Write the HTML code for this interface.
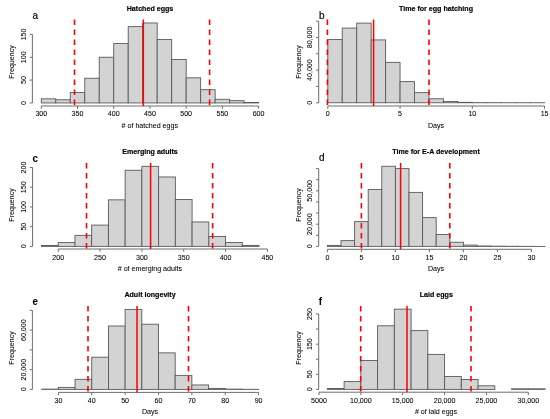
<!DOCTYPE html>
<html><head><meta charset="utf-8"><style>
html,body{margin:0;padding:0;background:#fff;width:550px;height:419px;overflow:hidden}
svg{display:block;will-change:transform;filter:blur(0.25px)}
text{font-family:"Liberation Sans",sans-serif;font-size:7.1px;stroke:#000;stroke-width:0.06px;stroke-linejoin:round} .t{stroke-width:0.16px}
</style></head><body>
<svg width="550" height="419" viewBox="0 0 550 419">
<rect width="550" height="419" fill="#fff"/>
<g fill="#d3d3d3" stroke="#5a5a5a" stroke-width="0.9"><rect x="41.3" y="98.84" width="14.49" height="4.11"/><rect x="55.79" y="99.75" width="14.49" height="3.2"/><rect x="70.27" y="92.44" width="14.49" height="10.51"/><rect x="84.76" y="78.27" width="14.49" height="24.68"/><rect x="99.25" y="57.25" width="14.49" height="45.7"/><rect x="113.73" y="43.54" width="14.49" height="59.41"/><rect x="128.22" y="26.63" width="14.49" height="76.32"/><rect x="142.71" y="22.97" width="14.49" height="79.98"/><rect x="157.19" y="39.43" width="14.49" height="63.52"/><rect x="171.68" y="59.53" width="14.49" height="43.42"/><rect x="186.17" y="77.81" width="14.49" height="25.14"/><rect x="200.65" y="89.7" width="14.49" height="13.25"/><rect x="215.14" y="99.29" width="14.49" height="3.66"/><rect x="229.63" y="100.67" width="14.49" height="2.28"/><rect x="244.11" y="102.49" width="14.49" height="0.46"/></g><g fill="none" stroke="#666" stroke-width="0.95"><path d="M41.3 106H258.6M41.3 106v2.8M77.52 106v2.8M113.73 106v2.8M149.95 106v2.8M186.17 106v2.8M222.38 106v2.8M258.6 106v2.8"/><path d="M32.4 102.95V34.4M32.4 102.95h-2.7M32.4 80.1h-2.7M32.4 57.25h-2.7M32.4 34.4h-2.7"/></g><g stroke="#ff0000"><line x1="74.5" y1="19.5" x2="74.5" y2="106" stroke-width="1.6" stroke-dasharray="5.5 4.5"/><line x1="143.35" y1="106" x2="143.35" y2="19.5" stroke-width="1.5"/><line x1="209.6" y1="19.5" x2="209.6" y2="106" stroke-width="1.6" stroke-dasharray="5.5 4.5"/></g><g fill="#000"><text x="41.3" y="116.2" text-anchor="middle">300</text><text x="77.52" y="116.2" text-anchor="middle">350</text><text x="113.73" y="116.2" text-anchor="middle">400</text><text x="149.95" y="116.2" text-anchor="middle">450</text><text x="186.17" y="116.2" text-anchor="middle">500</text><text x="222.38" y="116.2" text-anchor="middle">550</text><text x="258.6" y="116.2" text-anchor="middle">600</text><text transform="translate(26 102.95) rotate(-90)" text-anchor="middle">0</text><text transform="translate(26 80.1) rotate(-90)" text-anchor="middle">50</text><text transform="translate(26 57.25) rotate(-90)" text-anchor="middle">100</text><text transform="translate(26 34.4) rotate(-90)" text-anchor="middle">150</text><text transform="translate(14.3 62) rotate(-90)" text-anchor="middle">Frequency</text><text x="149.8" y="128" text-anchor="middle"># of hatched eggs</text><text x="150" y="10.9" text-anchor="middle" font-weight="bold" class="t">Hatched eggs</text></g><text transform="translate(32.6 18.85) scale(1 1.12)" style="font-size:10px;stroke-width:0.18px" fill="#000">a</text><g fill="#d3d3d3" stroke="#5a5a5a" stroke-width="0.9"><rect x="327.8" y="39.43" width="14.45" height="63.32"/><rect x="342.25" y="28.09" width="14.45" height="74.66"/><rect x="356.71" y="23.11" width="14.45" height="79.64"/><rect x="371.16" y="39.92" width="14.45" height="62.83"/><rect x="385.61" y="62.36" width="14.45" height="40.39"/><rect x="400.07" y="81.62" width="14.45" height="21.13"/><rect x="414.52" y="92.63" width="14.45" height="10.12"/><rect x="428.97" y="98.75" width="14.45" height="4"/><rect x="443.43" y="101.53" width="14.45" height="1.22"/><rect x="457.88" y="102.34" width="14.45" height="0.41"/><rect x="472.33" y="102.63" width="14.45" height="0.12"/><rect x="486.79" y="102.68" width="14.45" height="0.07"/><rect x="501.24" y="102.72" width="14.45" height="0.03"/><rect x="515.69" y="102.73" width="14.45" height="0.02"/><rect x="530.15" y="102.74" width="14.45" height="0.01"/></g><g fill="none" stroke="#666" stroke-width="0.95"><path d="M327.8 106H544.6M327.8 106v2.8M400.07 106v2.8M472.33 106v2.8M544.6 106v2.8"/><path d="M318.7 102.75V21.15M318.7 102.75h-2.7M318.7 86.43h-2.7M318.7 70.11h-2.7M318.7 53.79h-2.7M318.7 37.47h-2.7M318.7 21.15h-2.7"/></g><g stroke="#ff0000"><line x1="327.4" y1="19.5" x2="327.4" y2="106" stroke-width="1.6" stroke-dasharray="5.5 4.5"/><line x1="373.6" y1="106" x2="373.6" y2="19.5" stroke-width="1.5"/><line x1="429" y1="19.5" x2="429" y2="106" stroke-width="1.6" stroke-dasharray="5.5 4.5"/></g><g fill="#000"><text x="327.8" y="116.2" text-anchor="middle">0</text><text x="400.07" y="116.2" text-anchor="middle">5</text><text x="472.33" y="116.2" text-anchor="middle">10</text><text x="544.6" y="116.2" text-anchor="middle">15</text><text transform="translate(311.9 102.75) rotate(-90)" text-anchor="middle">0</text><text transform="translate(311.9 70.11) rotate(-90)" text-anchor="middle">40,000</text><text transform="translate(311.9 37.47) rotate(-90)" text-anchor="middle">80,000</text><text transform="translate(301 62) rotate(-90)" text-anchor="middle">Frequency</text><text x="436" y="128" text-anchor="middle">Days</text><text x="436" y="10.9" text-anchor="middle" font-weight="bold" class="t">Time for egg hatching</text></g><text transform="translate(318.9 18.85) scale(1 1.12)" style="font-size:10px;stroke-width:0.18px" fill="#000">b</text><g fill="#d3d3d3" stroke="#5a5a5a" stroke-width="0.9"><rect x="41.46" y="245.49" width="16.74" height="0.91"/><rect x="58.2" y="242.46" width="16.74" height="3.94"/><rect x="74.94" y="235.35" width="16.74" height="11.05"/><rect x="91.67" y="225.1" width="16.74" height="21.3"/><rect x="108.41" y="199.85" width="16.74" height="46.55"/><rect x="125.14" y="170.26" width="16.74" height="76.14"/><rect x="141.88" y="166.32" width="16.74" height="80.08"/><rect x="158.62" y="176.97" width="16.74" height="69.43"/><rect x="175.35" y="199.45" width="16.74" height="46.95"/><rect x="192.09" y="221.94" width="16.74" height="24.46"/><rect x="208.82" y="236.54" width="16.74" height="9.86"/><rect x="225.56" y="242.46" width="16.74" height="3.94"/><rect x="242.3" y="245.41" width="16.74" height="0.99"/></g><g fill="none" stroke="#666" stroke-width="0.95"><path d="M58.2 249H267.4M58.2 249v2.8M100.04 249v2.8M141.88 249v2.8M183.72 249v2.8M225.56 249v2.8M267.4 249v2.8"/><path d="M32.6 246.4V167.5M32.6 246.4h-2.7M32.6 226.68h-2.7M32.6 206.95h-2.7M32.6 187.22h-2.7M32.6 167.5h-2.7"/></g><g stroke="#ff0000"><line x1="86.5" y1="163" x2="86.5" y2="249" stroke-width="1.6" stroke-dasharray="5.5 4.5"/><line x1="150.6" y1="249" x2="150.6" y2="163" stroke-width="1.5"/><line x1="212.6" y1="163" x2="212.6" y2="249" stroke-width="1.6" stroke-dasharray="5.5 4.5"/></g><g fill="#000"><text x="58.2" y="259.6" text-anchor="middle">200</text><text x="100.04" y="259.6" text-anchor="middle">250</text><text x="141.88" y="259.6" text-anchor="middle">300</text><text x="183.72" y="259.6" text-anchor="middle">350</text><text x="225.56" y="259.6" text-anchor="middle">400</text><text x="267.4" y="259.6" text-anchor="middle">450</text><text transform="translate(26 246.4) rotate(-90)" text-anchor="middle">0</text><text transform="translate(26 226.68) rotate(-90)" text-anchor="middle">50</text><text transform="translate(26 206.95) rotate(-90)" text-anchor="middle">100</text><text transform="translate(26 187.22) rotate(-90)" text-anchor="middle">150</text><text transform="translate(26 167.5) rotate(-90)" text-anchor="middle">200</text><text transform="translate(14.3 205) rotate(-90)" text-anchor="middle">Frequency</text><text x="149.9" y="271" text-anchor="middle"># of emerging adults</text><text x="150" y="154.4" text-anchor="middle" font-weight="bold" class="t">Emerging adults</text></g><text transform="translate(32.6 161.8) scale(1 1.12)" style="font-size:9.8px;stroke-width:0.05px" font-weight="bold" fill="#000">c</text><g fill="#d3d3d3" stroke="#5a5a5a" stroke-width="0.9"><rect x="327.4" y="245.4" width="13.6" height="1"/><rect x="341" y="240.62" width="13.6" height="5.78"/><rect x="354.6" y="221.62" width="13.6" height="24.78"/><rect x="368.2" y="189.49" width="13.6" height="56.91"/><rect x="381.8" y="166.27" width="13.6" height="80.13"/><rect x="395.4" y="168.6" width="13.6" height="77.8"/><rect x="409" y="192.38" width="13.6" height="54.02"/><rect x="422.6" y="217.61" width="13.6" height="28.79"/><rect x="436.2" y="234.51" width="13.6" height="11.89"/><rect x="449.8" y="242.23" width="13.6" height="4.17"/><rect x="463.4" y="245.07" width="13.6" height="1.33"/><rect x="477" y="245.96" width="13.6" height="0.44"/><rect x="490.6" y="246.18" width="13.6" height="0.22"/><rect x="504.2" y="246.29" width="13.6" height="0.11"/><rect x="517.8" y="246.34" width="13.6" height="0.06"/><rect x="531.4" y="246.38" width="13.6" height="0.02"/></g><g fill="none" stroke="#666" stroke-width="0.95"><path d="M327.4 249.3H531.4M327.4 249.3v2.8M361.4 249.3v2.8M395.4 249.3v2.8M429.4 249.3v2.8M463.4 249.3v2.8M497.4 249.3v2.8M531.4 249.3v2.8"/><path d="M318.7 246.4V168.6M318.7 246.4h-2.7M318.7 235.29h-2.7M318.7 224.17h-2.7M318.7 213.06h-2.7M318.7 201.94h-2.7M318.7 190.83h-2.7M318.7 179.71h-2.7M318.7 168.6h-2.7"/></g><g stroke="#ff0000"><line x1="361.4" y1="163" x2="361.4" y2="249.3" stroke-width="1.6" stroke-dasharray="5.5 4.5"/><line x1="400.6" y1="249.3" x2="400.6" y2="163" stroke-width="1.5"/><line x1="449.8" y1="163" x2="449.8" y2="249.3" stroke-width="1.6" stroke-dasharray="5.5 4.5"/></g><g fill="#000"><text x="327.4" y="259.6" text-anchor="middle">0</text><text x="361.4" y="259.6" text-anchor="middle">5</text><text x="395.4" y="259.6" text-anchor="middle">10</text><text x="429.4" y="259.6" text-anchor="middle">15</text><text x="463.4" y="259.6" text-anchor="middle">20</text><text x="497.4" y="259.6" text-anchor="middle">25</text><text x="531.4" y="259.6" text-anchor="middle">30</text><text transform="translate(311.9 246.4) rotate(-90)" text-anchor="middle">0</text><text transform="translate(311.9 224.17) rotate(-90)" text-anchor="middle">20,000</text><text transform="translate(311.9 190.83) rotate(-90)" text-anchor="middle">50,000</text><text transform="translate(301 205) rotate(-90)" text-anchor="middle">Frequency</text><text x="436" y="271" text-anchor="middle">Days</text><text x="436" y="154.4" text-anchor="middle" font-weight="bold" class="t">Time for E-A development</text></g><text transform="translate(318.9 161.2) scale(1 1.12)" style="font-size:10px;stroke-width:0.18px" fill="#000">d</text><g fill="#d3d3d3" stroke="#5a5a5a" stroke-width="0.9"><rect x="41.72" y="389.1" width="16.68" height="0.3"/><rect x="58.4" y="387.42" width="16.68" height="1.98"/><rect x="75.08" y="379.33" width="16.68" height="10.07"/><rect x="91.77" y="357.21" width="16.68" height="32.19"/><rect x="108.45" y="326" width="16.68" height="63.4"/><rect x="125.13" y="309.41" width="16.68" height="79.99"/><rect x="141.82" y="324.22" width="16.68" height="65.18"/><rect x="158.5" y="352.86" width="16.68" height="36.54"/><rect x="175.18" y="375.38" width="16.68" height="14.02"/><rect x="191.87" y="384.96" width="16.68" height="4.44"/><rect x="208.55" y="388.41" width="16.68" height="0.99"/><rect x="225.23" y="389.1" width="16.68" height="0.3"/><rect x="241.92" y="389.3" width="16.68" height="0.1"/></g><g fill="none" stroke="#666" stroke-width="0.95"><path d="M58.4 392.4H258.6M58.4 392.4v2.8M91.77 392.4v2.8M125.13 392.4v2.8M158.5 392.4v2.8M191.87 392.4v2.8M225.23 392.4v2.8M258.6 392.4v2.8"/><path d="M32.4 389.4V310.4M32.4 389.4h-2.7M32.4 369.65h-2.7M32.4 349.9h-2.7M32.4 330.15h-2.7M32.4 310.4h-2.7"/></g><g stroke="#ff0000"><line x1="88" y1="306" x2="88" y2="392.4" stroke-width="1.6" stroke-dasharray="5.5 4.5"/><line x1="137" y1="392.4" x2="137" y2="306" stroke-width="1.5"/><line x1="188.5" y1="306" x2="188.5" y2="392.4" stroke-width="1.6" stroke-dasharray="5.5 4.5"/></g><g fill="#000"><text x="58.4" y="402.6" text-anchor="middle">30</text><text x="91.77" y="402.6" text-anchor="middle">40</text><text x="125.13" y="402.6" text-anchor="middle">50</text><text x="158.5" y="402.6" text-anchor="middle">60</text><text x="191.87" y="402.6" text-anchor="middle">70</text><text x="225.23" y="402.6" text-anchor="middle">80</text><text x="258.6" y="402.6" text-anchor="middle">90</text><text transform="translate(26 389.4) rotate(-90)" text-anchor="middle">0</text><text transform="translate(26 369.65) rotate(-90)" text-anchor="middle">20,000</text><text transform="translate(26 330.15) rotate(-90)" text-anchor="middle">60,000</text><text transform="translate(14.3 348) rotate(-90)" text-anchor="middle">Frequency</text><text x="150" y="414" text-anchor="middle">Days</text><text x="150" y="297.4" text-anchor="middle" font-weight="bold" class="t">Adult longevity</text></g><text transform="translate(32.6 304.5) scale(1 1.12)" style="font-size:9.8px;stroke-width:0.05px" font-weight="bold" fill="#000">e</text><g fill="#d3d3d3" stroke="#5a5a5a" stroke-width="0.9"><rect x="327.37" y="388.5" width="16.74" height="0.9"/><rect x="344.12" y="381.56" width="16.74" height="7.84"/><rect x="360.86" y="360.45" width="16.74" height="28.95"/><rect x="377.6" y="325.76" width="16.74" height="63.64"/><rect x="394.35" y="309.17" width="16.74" height="80.23"/><rect x="411.09" y="330.59" width="16.74" height="58.81"/><rect x="427.84" y="354.41" width="16.74" height="34.99"/><rect x="444.58" y="376.43" width="16.74" height="12.97"/><rect x="461.32" y="379.45" width="16.74" height="9.95"/><rect x="478.07" y="385.78" width="16.74" height="3.62"/><rect x="494.81" y="389.4" width="16.74" height="0"/><rect x="511.56" y="388.8" width="16.74" height="0.6"/><rect x="528.3" y="388.8" width="16.74" height="0.6"/></g><g fill="none" stroke="#666" stroke-width="0.95"><path d="M319 392.2H528.3M319 392.2v2.8M360.86 392.2v2.8M402.72 392.2v2.8M444.58 392.2v2.8M486.44 392.2v2.8M528.3 392.2v2.8"/><path d="M318.7 389.4V314M318.7 389.4h-2.7M318.7 374.32h-2.7M318.7 359.24h-2.7M318.7 344.16h-2.7M318.7 329.08h-2.7M318.7 314h-2.7"/></g><g stroke="#ff0000"><line x1="360.7" y1="306" x2="360.7" y2="392.2" stroke-width="1.6" stroke-dasharray="5.5 4.5"/><line x1="407" y1="392.2" x2="407" y2="306" stroke-width="1.5"/><line x1="471" y1="306" x2="471" y2="392.2" stroke-width="1.6" stroke-dasharray="5.5 4.5"/></g><g fill="#000"><text x="319" y="402.6" text-anchor="middle">5000</text><text x="360.86" y="402.6" text-anchor="middle">10,000</text><text x="402.72" y="402.6" text-anchor="middle">15,000</text><text x="444.58" y="402.6" text-anchor="middle">20,000</text><text x="486.44" y="402.6" text-anchor="middle">25,000</text><text x="528.3" y="402.6" text-anchor="middle">30,000</text><text transform="translate(311.9 389.4) rotate(-90)" text-anchor="middle">0</text><text transform="translate(311.9 374.32) rotate(-90)" text-anchor="middle">50</text><text transform="translate(311.9 344.16) rotate(-90)" text-anchor="middle">150</text><text transform="translate(311.9 314) rotate(-90)" text-anchor="middle">250</text><text transform="translate(301 348) rotate(-90)" text-anchor="middle">Frequency</text><text x="436" y="414" text-anchor="middle"># of laid eggs</text><text x="436.3" y="297.4" text-anchor="middle" font-weight="bold" class="t">Laid eggs</text></g><text transform="translate(318.8 304.5) scale(1 1.12)" style="font-size:9.8px;stroke-width:0.05px" font-weight="bold" fill="#000">f</text>
</svg>
</body></html>
